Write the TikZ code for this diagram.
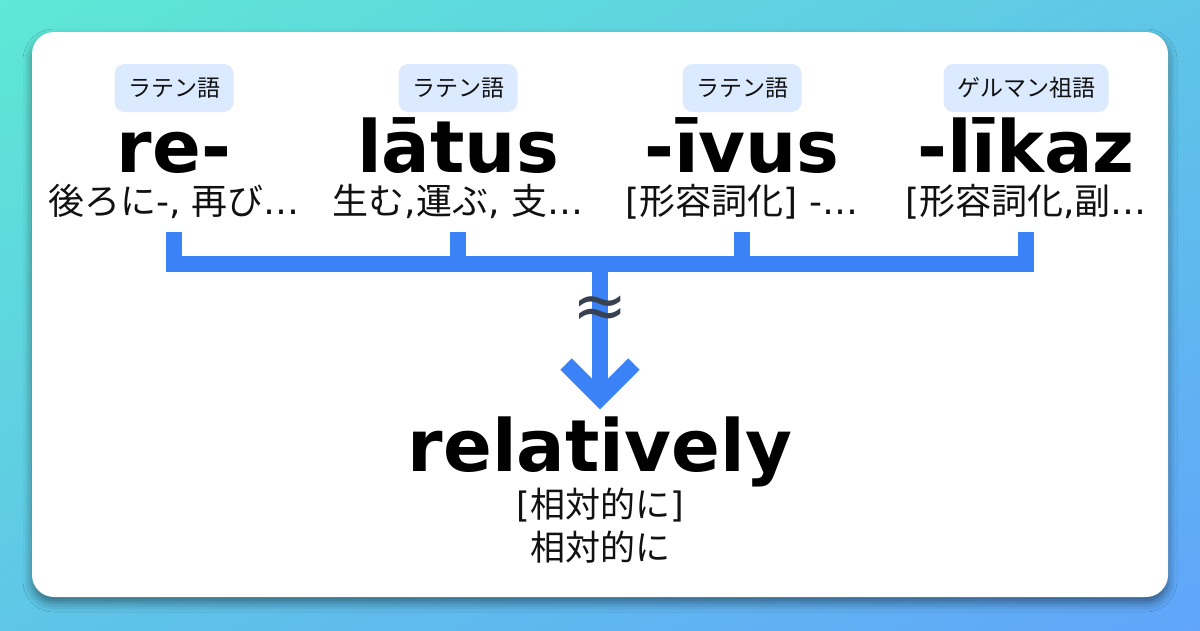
\documentclass[tikz,border=0pt]{standalone}
\usepackage{fontspec}
\setmainfont{DejaVu Sans}
\newfontfamily\jp{Noto Sans CJK JP}
\usetikzlibrary{shadings,shadows.blur}
\definecolor{bgA}{HTML}{5EE8D5}
\definecolor{bgB}{HTML}{60A5FA}
\definecolor{bgM}{HTML}{5FC6E7}
\definecolor{brand}{HTML}{3B82F6}
\definecolor{pillc}{HTML}{DBEAFE}
\definecolor{approxc}{HTML}{374151}
\definecolor{ink}{HTML}{111111}
\tikzset{
  pillbox/.style={fill=pillc, rounded corners=10pt, minimum height=48pt, inner xsep=13.5pt, inner ysep=0pt,
    font=\jp\fontsize{23}{23}\selectfont, text=ink},
  word/.style={font=\bfseries\fontsize{72}{72}\selectfont, inner sep=0pt, anchor=base, text=black},
  sub/.style={font=\fontsize{36}{36}\selectfont, inner sep=0pt, anchor=base, text=ink, text height=26pt},
  subb/.style={font=\fontsize{35}{35}\selectfont, inner sep=0pt, anchor=base, text=ink},
  conn/.style={draw=brand, line width=16pt},
}
\begin{document}
\begin{tikzpicture}[x=1pt,y=-1pt]
\useasboundingbox (0,0) rectangle (1200,630);
\shade[upper left=bgA, upper right=bgM, lower left=bgM, lower right=bgB] (0,0) rectangle (1200,630);
\fill[white, rounded corners=22pt, blur shadow={shadow xshift=0pt, shadow yshift=-6pt, shadow blur radius=9pt, shadow opacity=45}] (32,32) rectangle (1168,597);

% tags
\node[pillbox] (t1) at (174,88) {ラテン語};
\node[pillbox] (t2) at (458,88) {ラテン語};
\node[pillbox] (t3) at (742,88) {ラテン語};
\node[pillbox] (t4) at (1026,88) {ゲルマン祖語};

% words
\node[word] (w1) at (174,172) {re-};
\node[word] (w2) at (458,172) {lātus};
\node[word] (w3) at (742,172) {-īvus};
\node[word] (w4) at (1026,172) {-līkaz};

% meanings
\node[sub] (s1) at (174,214) {{\jp 後ろに}-, {\jp 再び}…};
\node[sub] (s2) at (458,214) {{\jp 生む},{\jp 運ぶ}, {\jp 支}…};
\node[sub] (s3) at (742,214) {[{\jp 形容詞化}] -…};
\node[sub] (s4) at (1026,214) {[{\jp 形容詞化},{\jp 副}…};

% connector points
\coordinate (a1) at (174,232);
\coordinate (a2) at (458,232);
\coordinate (a3) at (742,232);
\coordinate (a4) at (1026,232);
\coordinate (b1) at (174,264);
\coordinate (b2) at (458,264);
\coordinate (b3) at (742,264);
\coordinate (b4) at (1026,264);
\coordinate (bl) at (166,264);
\coordinate (br) at (1034,264);
\coordinate (m) at (600,264);
\coordinate (tip) at (600,398);
\coordinate (cl) at (566,364);
\coordinate (cr) at (634,364);

\draw[conn] (a1) -- (b1);
\draw[conn] (a2) -- (b2);
\draw[conn] (a3) -- (b3);
\draw[conn] (a4) -- (b4);
\draw[conn] (bl) -- (br);
\draw[conn] (m) -- (tip);
\draw[conn, line join=miter] (cl) -- (tip) -- (cr);

\node[font=\fontsize{66}{66}\selectfont, text=approxc, inner sep=0pt] (ap) at (600,312) {≈};

% result
\node[word] (r) at (600,471) {relatively};
\node[subb] (r1) at (600,517) {[{\jp 相対的に}]};
\node[subb] (r2) at (600,560) {\jp 相対的に};
\end{tikzpicture}
\end{document}
